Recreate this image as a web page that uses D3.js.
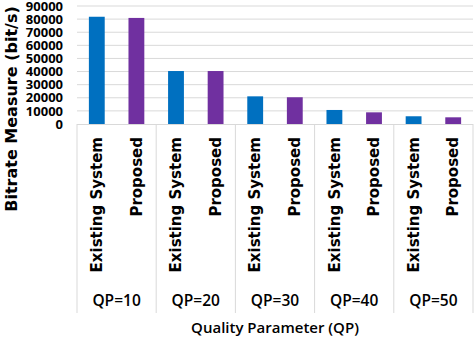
<!DOCTYPE html>
<html>
<head>
<meta charset="utf-8">
<script src="https://cdn.jsdelivr.net/npm/d3@7"></script>
<style>
  body { margin: 0; background: #fff; }
  text { font-family: "Open Sans", sans-serif; fill: #000; }
  .bold { font-family: "DejaVu Sans", sans-serif; font-weight: bold; }
</style>
</head>
<body>
<script>
// data
const groups = ["QP=10", "QP=20", "QP=30", "QP=40", "QP=50"];
const series = ["Existing System", "Proposed"];
const existing = [81800, 40400, 21100, 10700, 5900];
const proposed = [80900, 40400, 20400, 8900, 5100];
const yTicks = [0, 10000, 20000, 30000, 40000, 50000, 60000, 70000, 80000, 90000];
const colors = ["#0070c0", "#7030a0"];

const W = 474, H = 342;
const plot = {left: 77, right: 473, top: 6, bottom: 124};

const svg = d3.select("body").append("svg")
    .attr("width", W)
    .attr("height", H);

// scales
const x0 = d3.scaleBand().domain(groups).range([plot.left, plot.right]);
const x1 = d3.scaleBand().domain(series).range([0, x0.bandwidth()])
    .paddingInner(0.6).paddingOuter(0.3);
const y = d3.scaleLinear().domain([0, 90000]).range([plot.bottom, plot.top]);
const color = d3.scaleOrdinal().domain(series).range(colors);

// gridlines
svg.append("g").attr("class", "grid")
  .selectAll("line").data(yTicks.filter(d => d > 0))
  .enter().append("line")
    .attr("x1", plot.left).attr("x2", plot.right)
    .attr("y1", d => y(d)).attr("y2", d => y(d))
    .attr("stroke", "#d9d9d9").attr("stroke-width", 1);

// y tick labels
svg.append("g").attr("class", "axis axis--y")
  .selectAll("text").data(yTicks)
  .enter().append("text")
    .attr("x", 63)
    .attr("y", d => y(d))
    .attr("dy", "0.36em")
    .attr("text-anchor", "end")
    .style("font-size", "13px")
    .style("font-weight", "bold")
    .text(d => d);

// bars
const rows = groups.map((g, i) => ({group: g, values: [
  {key: series[0], value: existing[i]},
  {key: series[1], value: proposed[i]}
]}));

const gGroup = svg.append("g").attr("class", "bars")
  .selectAll("g").data(rows)
  .enter().append("g")
    .attr("transform", d => `translate(${x0(d.group)},0)`);

gGroup.selectAll("rect").data(d => d.values)
  .enter().append("rect")
    .attr("x", d => x1(d.key))
    .attr("width", x1.bandwidth())
    .attr("y", d => y(d.value))
    .attr("height", d => y(0) - y(d.value))
    .attr("fill", d => color(d.key));

// category axis line and group dividers
svg.append("line")
    .attr("x1", plot.left).attr("x2", plot.right)
    .attr("y1", plot.bottom + 0.5).attr("y2", plot.bottom + 0.5)
    .attr("stroke", "#d9d9d9");

const dividers = groups.map(g => x0(g)).concat([plot.right]);
svg.append("g").selectAll("line").data(dividers)
  .enter().append("line")
    .attr("x1", d => d).attr("x2", d => d)
    .attr("y1", plot.bottom).attr("y2", 313)
    .attr("stroke", "#d9d9d9");

// rotated series labels
gGroup.selectAll("text.series").data(d => d.values)
  .enter().append("text")
    .attr("class", "series bold")
    .attr("transform", d => `translate(${x1(d.key) + x1.bandwidth() / 2},137) rotate(-90)`)
    .attr("dy", "0.35em")
    .attr("text-anchor", "end")
    .style("font-size", "15px")
    .text(d => d.key);

// group labels
gGroup.append("text")
    .attr("x", x0.bandwidth() / 2)
    .attr("y", 306)
    .attr("text-anchor", "middle")
    .style("font-size", "15.5px")
    .style("font-weight", "600")
    .text(d => d.group);

// axis titles
svg.append("text")
    .attr("x", (plot.left + plot.right) / 2)
    .attr("y", 333)
    .attr("text-anchor", "middle")
    .style("font-size", "15px")
    .style("font-weight", "600")
    .text("Quality Parameter (QP)");

svg.append("text")
    .attr("class", "bold")
    .attr("transform", "translate(11,109) rotate(-90)")
    .attr("dy", "0.35em")
    .attr("text-anchor", "middle")
    .style("font-size", "16px")
    .text("Bitrate Measure (bit/s)");
</script>
</body>
</html>
